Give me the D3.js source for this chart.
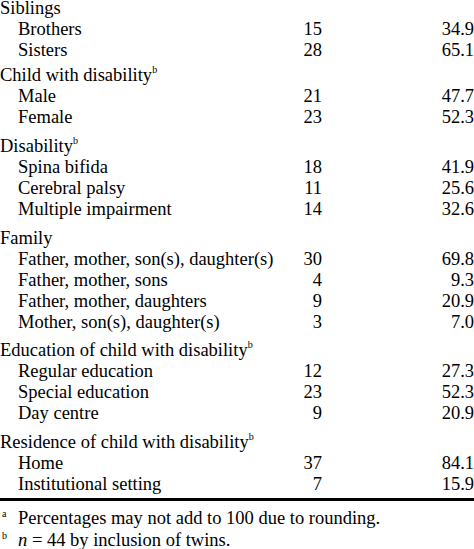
<!DOCTYPE html>
<html>
<head>
<script src="https://cdn.jsdelivr.net/npm/d3@7/dist/d3.min.js"></script>
<style>body{margin:0;background:#fff} svg text{font-family:"Liberation Serif","DejaVu Serif",serif}</style>
</head>
<body>
<script>
var width = 474, height = 549;

var groups = ["Siblings", "Child with disability", "Disability", "Family",
              "Education of child with disability", "Residence of child with disability"];
var groupSup = ["", "b", "b", "", "b", "b"];
var labels = [
  ["Brothers", "Sisters"],
  ["Male", "Female"],
  ["Spina bifida", "Cerebral palsy", "Multiple impairment"],
  ["Father, mother, son(s), daughter(s)", "Father, mother, sons", "Father, mother, daughters", "Mother, son(s), daughter(s)"],
  ["Regular education", "Special education", "Day centre"],
  ["Home", "Institutional setting"]
];
var counts = [[15, 28], [21, 23], [18, 11, 14], [30, 4, 9, 3], [12, 23, 9], [37, 7]];
var percents = [["34.9", "65.1"], ["47.7", "52.3"], ["41.9", "25.6", "32.6"],
                ["69.8", "9.3", "20.9", "7.0"], ["27.3", "52.3", "20.9"], ["84.1", "15.9"]];
var groupY = [8, 75, 146, 238, 350, 442];

var svg = d3.select("body").append("svg").attr("width", width).attr("height", height)
  .style("font-size", "18.5px");

var x = d3.scaleOrdinal().domain(["label", "count", "pct"]).range([18, 322, 474]);
var rowStep = 20.8;

groups.forEach(function(g, gi) {
  var t = svg.append("text").attr("x", 0).attr("y", groupY[gi]).attr("dy", "0.35em").text(g);
  if (groupSup[gi]) t.append("tspan").attr("font-size", "10px").attr("dy", "-0.8em").text(groupSup[gi]);
  labels[gi].forEach(function(l, i) {
    var y = groupY[gi] + 21 + i * rowStep;
    svg.append("text").attr("x", x("label")).attr("y", y).attr("dy", "0.35em").text(l);
    svg.append("text").attr("x", x("count")).attr("y", y).attr("dy", "0.35em")
      .attr("text-anchor", "end").text(counts[gi][i]);
    svg.append("text").attr("x", x("pct")).attr("y", y).attr("dy", "0.35em")
      .attr("text-anchor", "end").text(percents[gi][i]);
  });
});

svg.append("rect").attr("x", 0).attr("y", 498).attr("width", width).attr("height", 3).attr("fill", "#000");

svg.append("text").attr("x", 2).attr("y", 517).attr("font-size", "10px").text("a");
svg.append("text").attr("x", 18).attr("y", 518).attr("dy", "0.35em").text("Percentages may not add to 100 due to rounding.");
svg.append("text").attr("x", 2).attr("y", 539).attr("font-size", "10px").text("b");
var n = svg.append("text").attr("x", 18).attr("y", 540).attr("dy", "0.35em");
n.append("tspan").attr("font-style", "italic").text("n");
n.append("tspan").text(" = 44 by inclusion of twins.");
</script>
</body>
</html>
